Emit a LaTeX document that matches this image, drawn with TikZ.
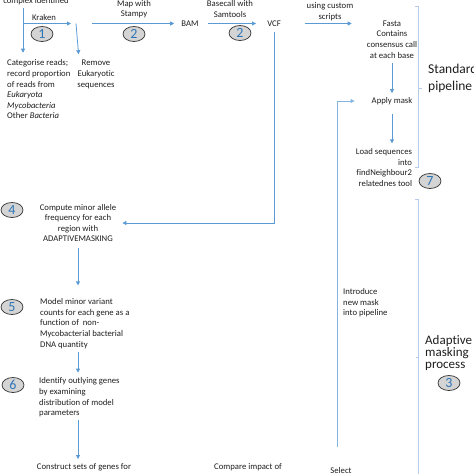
\documentclass[tikz,border=0pt]{standalone}
\usepackage{fontspec}
\setmainfont{Carlito}[Ligatures=NoCommon]
\usetikzlibrary{arrows.meta,shapes.geometric}

\definecolor{flowblue}{HTML}{5B9BD5}
\definecolor{paleblue}{HTML}{B4CCE8}
\definecolor{stepgray}{HTML}{D4D4D4}
\definecolor{stepnum}{HTML}{2E75B6}
\definecolor{textgray}{HTML}{1E1E1E}

\begin{document}
\begin{tikzpicture}[x=1pt, y=-1pt,
  txt/.style={font=\fontsize{8.7}{10.6}\selectfont, text=textgray, inner sep=1pt},
  big/.style={text=textgray, inner sep=0pt, align=left, anchor=west},
  stepno/.style={ellipse, draw=black!80, fill=stepgray, line width=0.7pt,
    minimum width=22pt, minimum height=15pt, inner sep=0pt,
    text=stepnum, font=\fontsize{14}{14}\selectfont},
  arr/.style={draw=flowblue, line width=0.8pt, -{Triangle[length=4pt,width=4pt]}},
  bar/.style={draw=paleblue, line width=0.8pt}
]

\useasboundingbox (0,0) rectangle (474,474);
\clip (0,0) rectangle (474,474);

% first row
\node [txt, anchor=base] (complex) at (36,3) {complex identified};
\coordinate (ksplit) at (23,23.5);
\coordinate (rsplit) at (76,23.5);
\node [txt] (kraken) at (44,17.5) {Kraken};
\node [stepno] (s1) at (42,34) {1};
\node [txt, align=left, anchor=west] (categorise) at (6,89.5)
  {Categorise reads;\\record proportion\\of reads from\\\textit{Eukaryota}\\\textit{Mycobacteria}\\Other \textit{Bacteria}};
\node [txt, align=center] (remove) at (96,74.5) {Remove\\Eukaryotic\\sequences};

\node [txt, align=center] (stampy) at (134,9) {Map with\\Stampy};
\node [stepno] (s2a) at (134,34) {2};
\node [txt] (bam) at (190,23.5) {BAM};
\node [txt, align=center] (samtools) at (230,9) {Basecall with\\Samtools};
\node [stepno] (s2b) at (240,33) {2};
\node [txt] (vcf) at (274,23.5) {VCF};
\node [txt, align=center] (scripts) at (330,11.5) {using custom\\scripts};

% standard pipeline
\node [txt, align=center] (fasta) at (392,39.5) {Fasta\\Contains\\consensus call\\at each base};
\node [txt] (apply) at (392,101) {Apply mask};
\node [txt, align=right] (load) at (384,167.5) {Load sequences\\into\\findNeighbour2\\relatednes tool};
\node [stepno] (s7) at (430,181) {7};
\node [big, font=\fontsize{13.5}{16.5}\selectfont] (standard) at (428,78.5) {Standard\\pipeline};

% adaptive masking
\node [txt, align=center] (compute) at (78,223)
  {Compute minor allele\\frequency for each\\region with\\ADAPTIVEMASKING};
\node [stepno] (s4) at (12,210) {4};
\node [txt, align=left, anchor=west] (model) at (39,323.5)
  {Model minor variant\\counts for each gene as a\\function of~ non-\\Mycobacterial bacterial\\DNA quantity};
\node [stepno] (s5) at (12,307) {5};
\node [txt, align=left, anchor=west] (identify) at (38,397.5)
  {Identify outlying genes\\by examining\\distribution of model\\parameters};
\node [stepno] (s6) at (13,385) {6};
\node [txt] (construct) at (84,467) {Construct sets of genes for};
\node [txt] (compare) at (248,467) {Compare impact of};
\node [txt] (select) at (341,471) {Select};
\node [txt, align=left, anchor=west] (introduce) at (342,303) {Introduce\\new mask\\into pipeline};
\coordinate (maskfoot) at (337,447);
\node [big, font=\fontsize{13}{12}\selectfont] (adaptive) at (425,353) {Adaptive\\masking\\process};
\node [stepno] (s3) at (449,383) {3};

% connectors
\draw [arr, shorten <=2pt, shorten >=6pt] (complex.south -| ksplit) -- (ksplit |- categorise.north);
\draw [arr, shorten >=5pt] (ksplit) -- (rsplit);
\draw [arr, shorten >=5pt] (rsplit) -- ([xshift=-17pt]remove.north);
\draw [arr, shorten <=16pt, shorten >=6pt] (rsplit) -- (rsplit -| bam.west);
\draw [arr, shorten <=8pt, shorten >=10pt] (bam.east) -- (vcf.west);
\draw [arr, shorten <=23pt, shorten >=14pt] (vcf.east) -- (vcf.east -| fasta.west);
\draw [arr, shorten <=4pt, shorten >=3pt] (fasta.south) -- (apply.north);
\draw [arr, shorten <=8pt, shorten >=4pt] (apply.south) -- (apply.south |- load.north);
\draw [arr, shorten <=4pt, shorten >=5pt] (vcf.south) |- (compute.east);
\draw [arr, shorten <=5pt, shorten >=12pt] (compute.south) -- (compute.south |- model.north);
\draw [arr, shorten <=2pt, shorten >=4pt] (model.south -| compute.south) -- (compute.south |- identify.north);
\draw [arr, shorten <=2pt, shorten >=3pt] (identify.south -| compute.south) -- (compute.south |- construct.north);
\draw [arr, draw=flowblue!75, shorten >=16pt] (maskfoot) |- (apply.west);

% brackets
\draw [bar] (415,6) -- (418,6) -- (418,167) -- (415,167);
\draw [bar] (418,88) -- (422,88);
\draw [bar] (415,199) -- (418,199) -- (418,480);
\draw [bar] (418,357) -- (416,357);

\end{tikzpicture}
\end{document}
